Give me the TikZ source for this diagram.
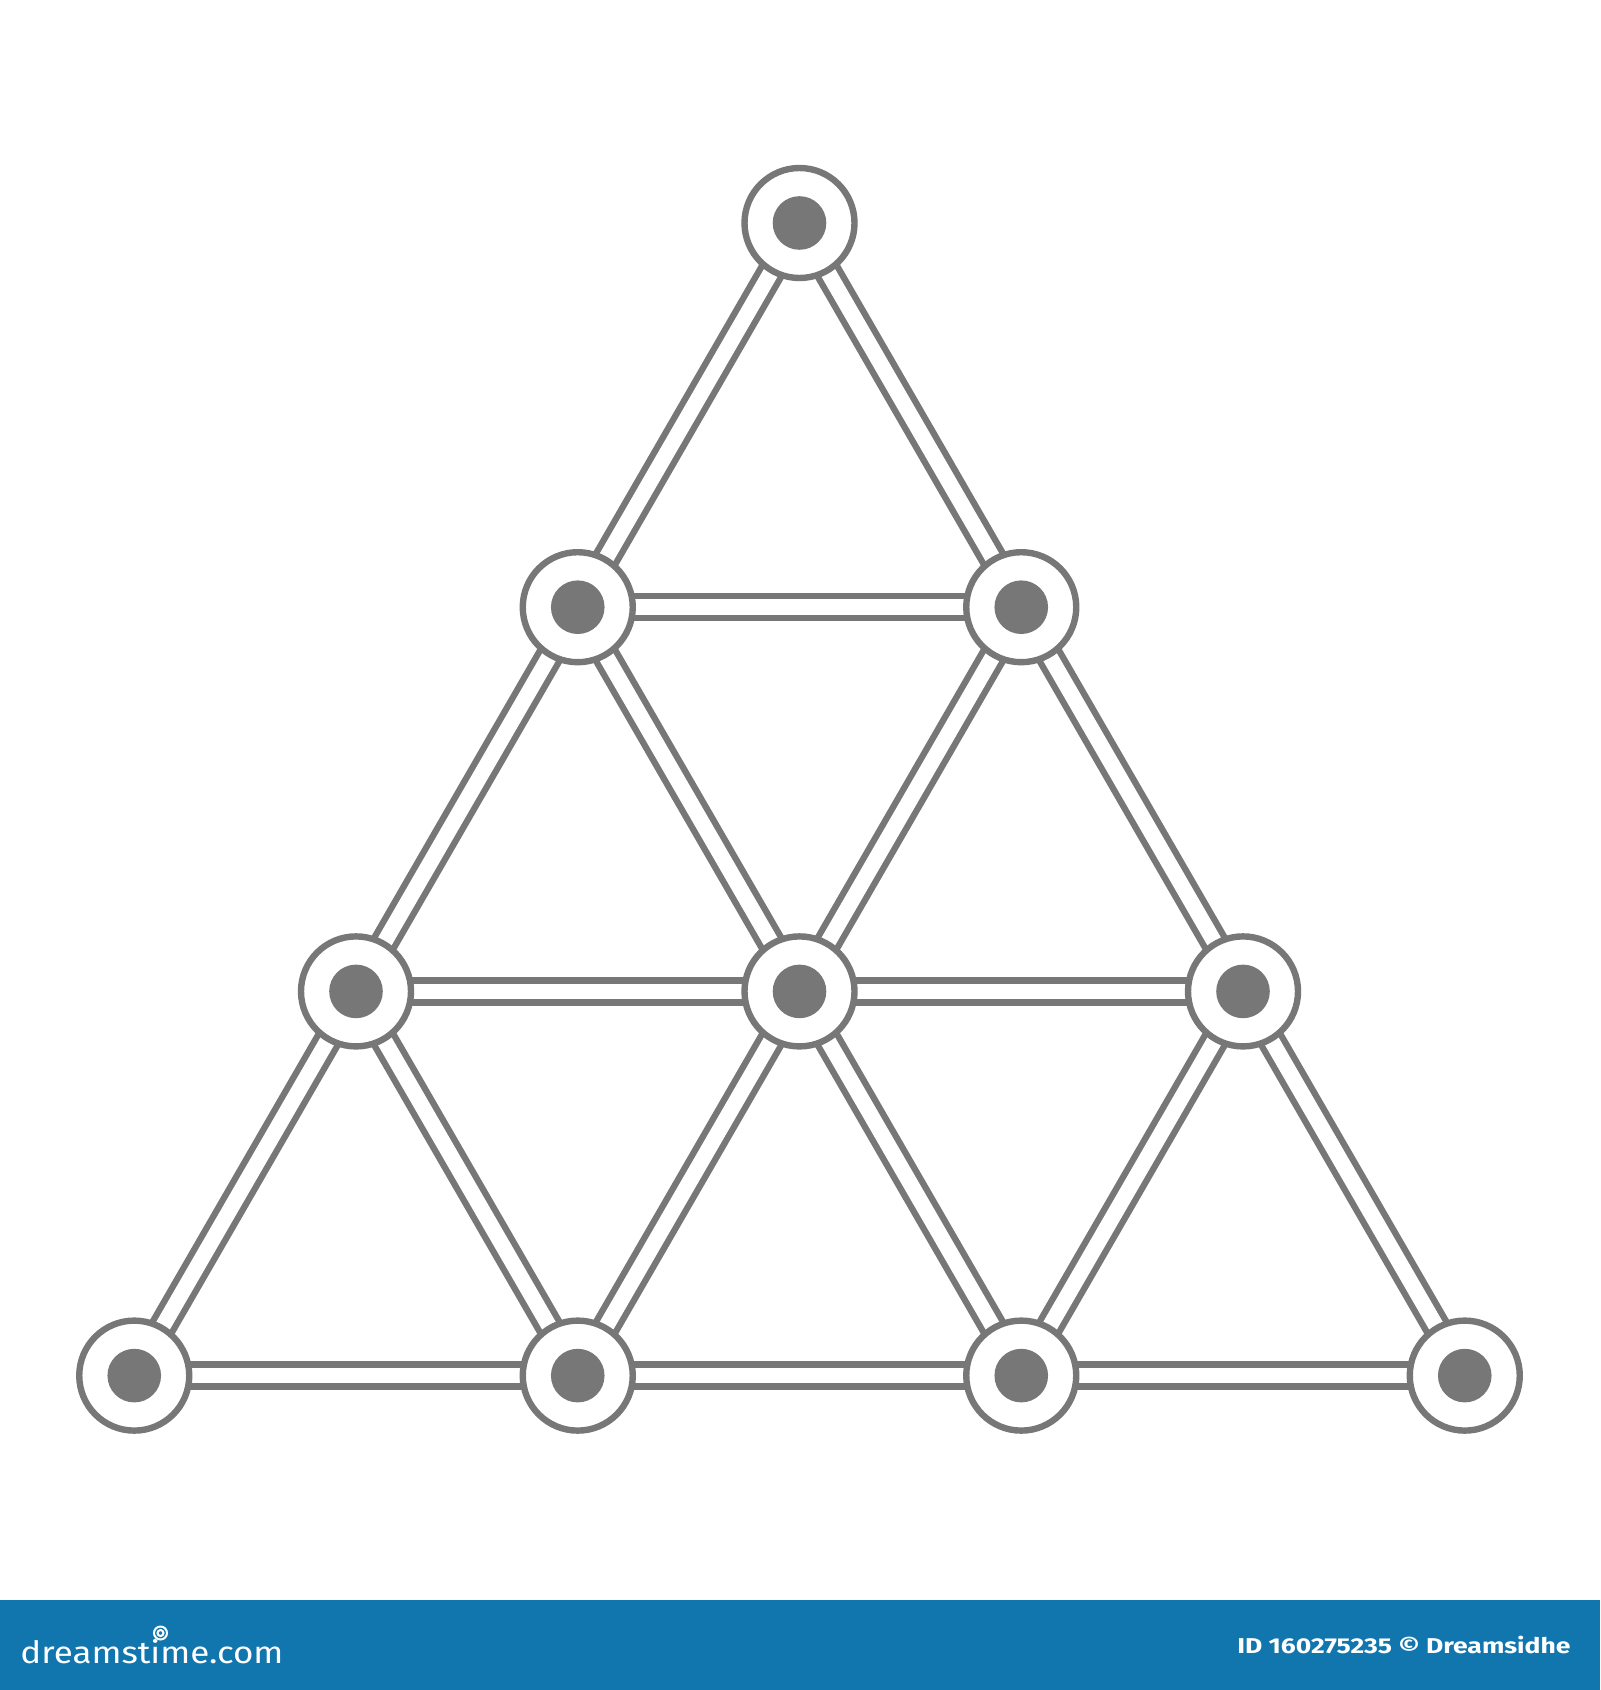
\documentclass[tikz,border=0pt]{standalone}
\usepackage{fontspec}
\setsansfont{Fira Sans}
\usetikzlibrary{backgrounds}
\definecolor{rodgray}{HTML}{777777}
\definecolor{banner}{HTML}{1276AE}
\tikzset{
  ball/.style={circle, draw=rodgray, line width=3.2pt, fill=white, minimum size=55pt, inner sep=0pt,
    path picture={\fill[rodgray] (path picture bounding box.center) circle (13.4pt);}},
  rod/.style={draw=rodgray, line width=3.2pt, double=white, double distance=7.8pt}
}
\begin{document}
\begin{tikzpicture}[x=0.5pt,y=-0.5pt]
\useasboundingbox (0,0) rectangle (1600,1690);
% nodes
\foreach \k in {0,...,3}{
  \foreach \i in {0,...,\k}{
    \node[ball] (r\k c\i) at ({799.5+(2*\i-\k)*221.75},{223+\k*384.2}) {};
  }
}
% rods and background
\begin{scope}[on background layer]
\fill[white] (0,0) rectangle (1600,1600);
\fill[banner] (0,1600) rectangle (1600,1690);
\foreach \k in {0,...,3}{
  \foreach \i in {0,...,\k}{
    \ifnum\i<\k
      \pgfmathtruncatemacro{\j}{\i+1}
      \draw[rod] (r\k c\i.center) -- (r\k c\j.center);
    \fi
    \ifnum\k<3
      \pgfmathtruncatemacro{\kk}{\k+1}
      \pgfmathtruncatemacro{\j}{\i+1}
      \draw[rod] (r\k c\i.center) -- (r\kk c\i.center);
      \draw[rod] (r\k c\i.center) -- (r\kk c\j.center);
    \fi
  }
}
\end{scope}
% banner texts
\node[anchor=base west, inner sep=0pt, text=white] (logo) at (20,1663)
  {\resizebox{131.5pt}{12pt}{\sffamily dreamstime.com}};
\draw[white, line width=1pt] (160.5,1633) circle (6.5) circle (3);
\node[anchor=base west, inner sep=0pt, text=white] (credit) at (1237,1653)
  {\resizebox{166.5pt}{8.7pt}{\sffamily\bfseries ID 160275235 © Dreamsidhe}};
\end{tikzpicture}
\end{document}
